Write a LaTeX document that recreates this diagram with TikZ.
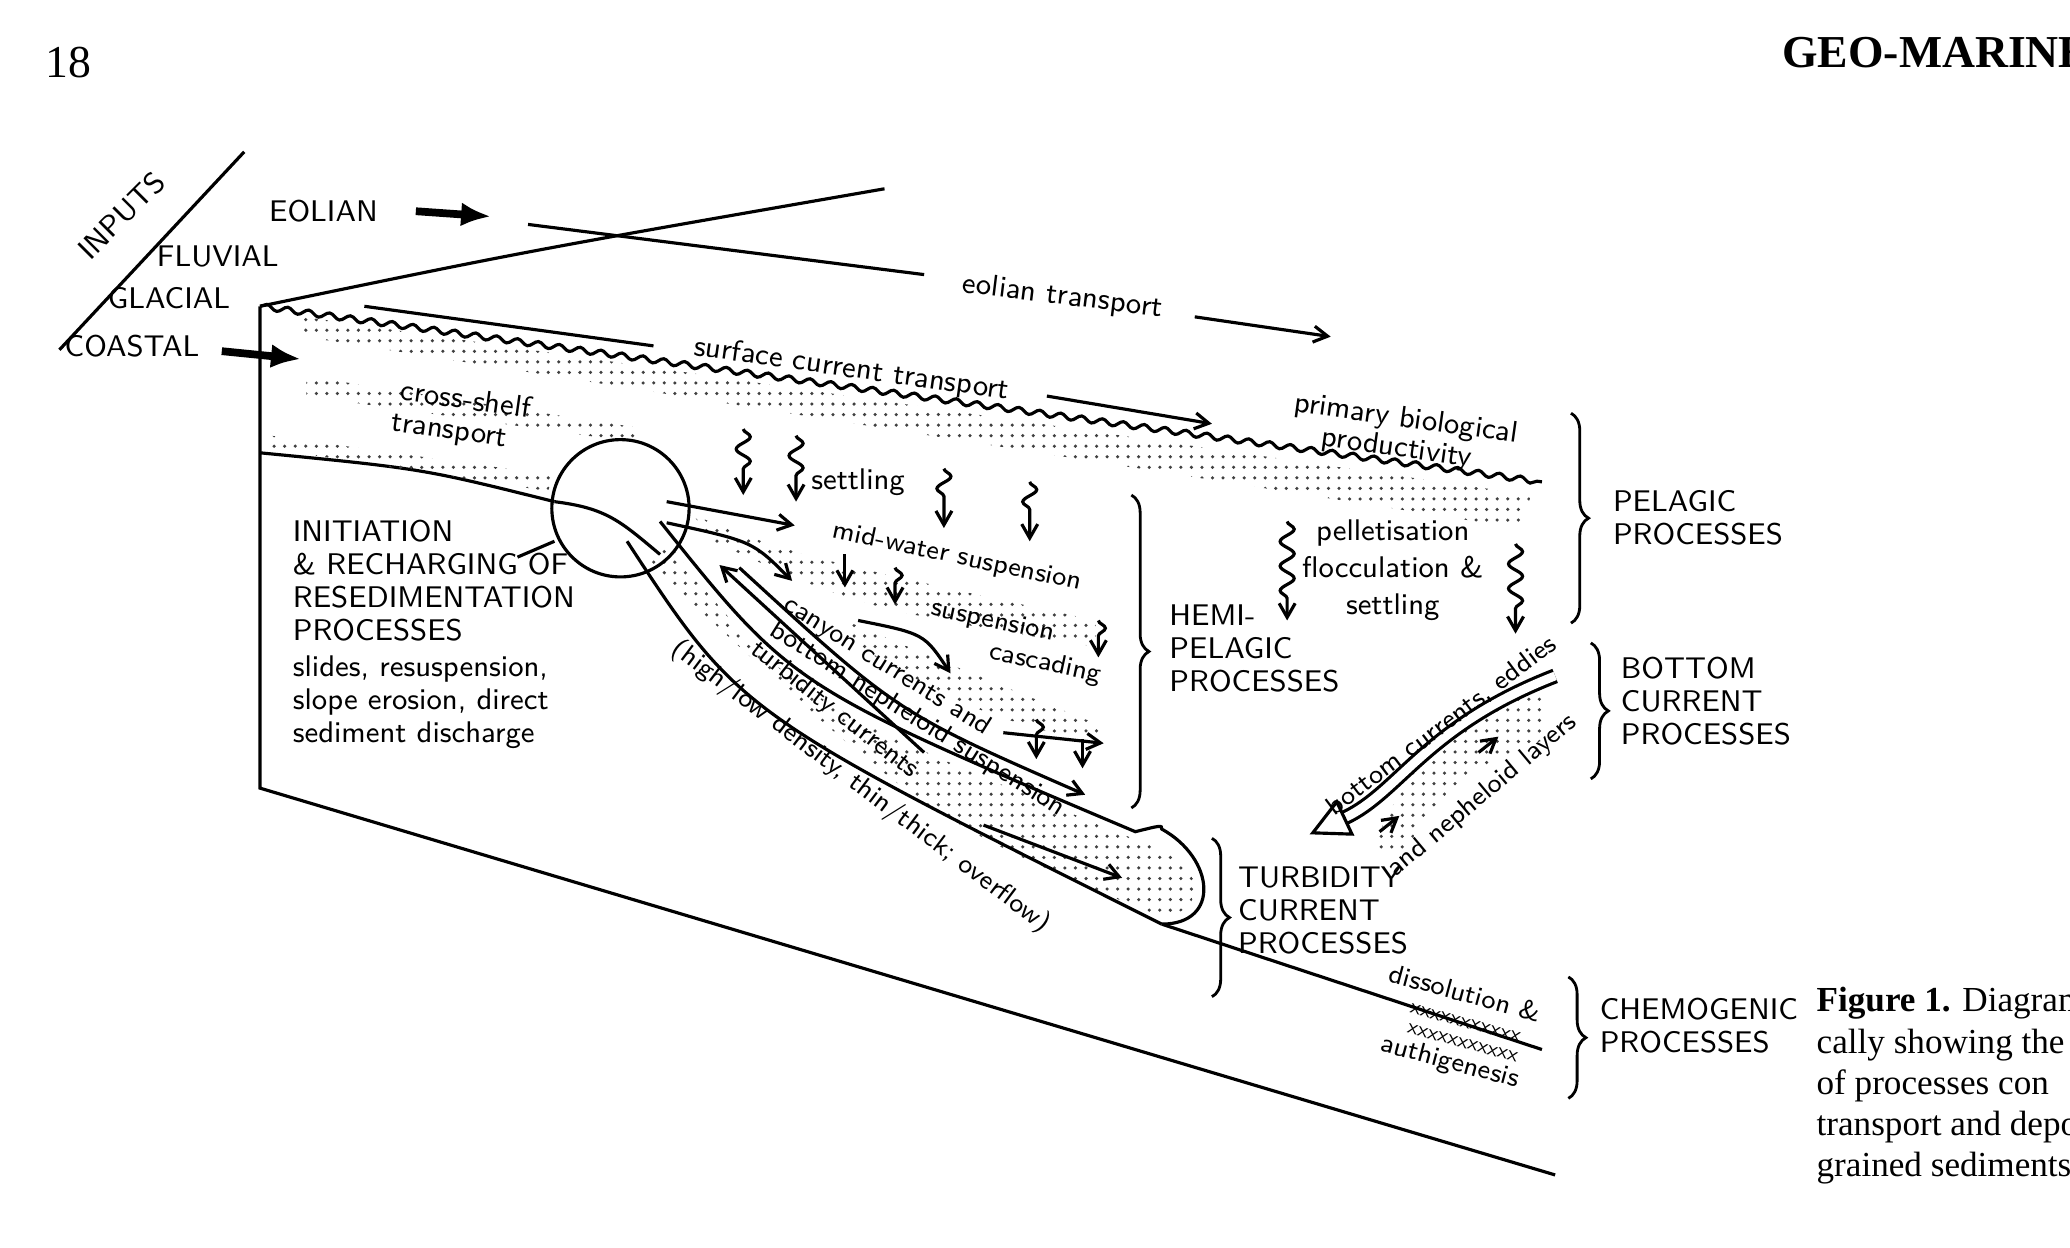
\documentclass[tikz,border=0pt]{standalone}
\usepackage{fontspec}
\newfontfamily\timesfont{Liberation Serif}
\usepackage{tikz}
\usetikzlibrary{calc,positioning,patterns,decorations.pathmorphing,decorations.pathreplacing,arrows.meta}
\tikzset{>={Straight Barb[width=1.6mm,length=1.4mm]}}
\begin{document}
\begin{tikzpicture}[x=0.13202mm,y=-0.13202mm,line width=0.9pt]
      %%%%%%%%%%%%%%%%%%%%%%%%%%%%%%%%%%%%%%%%%%%%%%%%%%
      %% styles
      %%%%%%%%%%%%%%%%%%%%%%%%%%%%%%%%%%%%%%%%%%%%%%%%%%
      \tikzstyle{lbl} = [font=\sffamily\fontsize{8.5}{10.5}\selectfont, inner sep=1pt]
      \tikzstyle{slbl} = [font=\sffamily\fontsize{7.6}{9}\selectfont, inner sep=1pt]
      \tikzstyle{proc} = [font=\sffamily\fontsize{8.5}{9.4}\selectfont, align=left, inner sep=1pt, anchor=west]
      \tikzstyle{brc} = [decorate, decoration={brace, amplitude=5pt}, line width=0.8pt]
      \tikzstyle{sink} = [->, decorate, decoration={snake, amplitude=2pt, segment length=7pt, post length=2mm}]
      \tikzstyle{fat} = [-{Latex[length=3mm,width=2.4mm]}, line width=2.2pt]
      \tikzstyle{stip} = [pattern=dots, pattern color=black!75, draw=none]
      \useasboundingbox (0,0) rectangle (1568,945);
      % page header and caption
      \node[font=\timesfont\fontsize{13}{15}\selectfont] (page) at (52,47) {18};
      \node[font=\timesfont\bfseries\fontsize{13}{15}\selectfont, anchor=west] (jour) at (1340,40) {GEO-MARINE L};
      \node[font=\timesfont\fontsize{10}{11.7}\selectfont, anchor=north west, align=left] (cap) at (1366,738)
        {\textbf{Figure 1.} Diagram\\cally showing the\\of processes con\\transport and depos\\grained sediments i};
      % block
      \draw (197,232) .. controls (400,190) .. (670,143);
      \draw (197,232) -- (197,597) -- (1178,890);
      \draw[decorate, decoration={snake, amplitude=0.8pt, segment length=6pt}] (197,232) -- (1168,365);
      \draw (197,343) .. controls (320,355) .. (420,380);
      \draw (1168,795) -- (880,700);
      % sediment bands
      \fill[stip] (230,240) -- (1160,375) -- (1150,400) -- (800,345) -- (230,255) -- cycle;
      \fill[stip] (232,285) -- (490,325) -- (480,335) -- (232,300) -- cycle;
      \fill[stip] (205,330) -- (420,360) -- (415,372) -- (205,340) -- cycle;
      \fill[stip] (525,390) .. controls (600,420) .. (830,470) -- (830,490) .. controls (650,460) .. (540,410) -- cycle;
      \fill[stip] (640,470) .. controls (760,520) .. (835,550) -- (835,565) .. controls (740,540) .. (650,490) -- cycle;
      \fill[stip] (505,410) .. controls (600,530) .. (870,640) .. controls (915,655) and (915,690) .. (880,695) .. controls (700,620) .. (490,425) -- cycle;
      % inputs
      \draw (45,265) -- (185,115);
      \node[lbl, rotate=45] (inp) at (92,163) {INPUTS};
      \node[lbl] (eol) at (245,160) {EOLIAN};
      \node[lbl] (flu) at (165,194) {FLUVIAL};
      \node[lbl] (gla) at (128,226) {GLACIAL};
      \node[lbl] (coa) at (100,262) {COASTAL};
      \draw[fat] (315,160) -- (372,164);
      \draw[fat] (168,266) -- (228,272);
      % transports
      \draw (400,170) -- (700,208);
      \node[lbl, rotate=-7] (eoltr) at (805,225) {eolian transport};
      \draw[->] (905,240) -- (1008,255);
      \draw (276,232) -- (495,262);
      \node[lbl, rotate=-8] (surf) at (645,280) {surface current transport};
      \draw[->] (793,300) -- (918,321);
      \node[lbl, rotate=-8] (cross) at (353,302) {cross-shelf};
      \node[lbl, rotate=-8] (trans) at (340,328) {transport};
      \node[lbl, rotate=-8] (prim) at (1065,318) {primary biological};
      \node[lbl, rotate=-8] (prod) at (1058,340) {productivity};
      % settling
      \foreach \x/\a/\b in {563/325/375, 603/330/380, 715/355/400, 780/365/410, 975/395/470, 1148/412/480}
        \draw[sink] (\x,\a) -- (\x,\b);
      \foreach \x/\a/\b in {640/420/445, 678/430/458, 832/470/498, 785/545/575, 820/560/582}
        \draw[sink] (\x,\a) -- (\x,\b);
      \node[lbl] (sett) at (650,365) {settling};
      \node[lbl, align=center] (pell) at (1055,432) {pelletisation\\flocculation \&\\settling};
      % resedimentation
      \draw (470,385) circle (52);
      \draw (420,380) .. controls (460,385) and (470,395) .. (500,420);
      \node[proc] (init) at (218,440) {INITIATION\\\& RECHARGING OF\\RESEDIMENTATION\\PROCESSES};
      \draw (392,422) -- (420,410);
      \node[proc, font=\sffamily\fontsize{8.5}{9.4}\selectfont] (slid) at (218,532) {slides, resuspension,\\slope erosion, direct\\sediment discharge};
      % canyon
      \draw (500,395) .. controls (600,520) .. (860,630) .. controls (880,625) .. (880,628) .. controls (920,650) and (925,700) .. (880,700);
      \draw (475,410) .. controls (560,540) .. (880,700);
      \draw[->] (505,380) -- (602,398);
      \draw[->] (505,396) .. controls (570,410) .. (600,440);
      \draw[->] (700,570) -- (545,428);
      \draw[->] (560,430) .. controls (680,540) .. (822,602);
      \draw[->] (650,470) .. controls (700,480) .. (720,510);
      \draw[->] (760,555) -- (836,563);
      \draw[->] (745,625) -- (850,665);
      \node[slbl, rotate=-12] (midw) at (725,422) {mid-water suspension};
      \node[slbl, rotate=-12] (susp) at (752,471) {suspension};
      \node[slbl, rotate=-12] (casc) at (792,503) {cascading};
      \node[slbl, rotate=-32] (cany) at (672,505) {canyon currents and};
      \node[slbl, rotate=-32] (bott) at (695,545) {bottom nepheloid suspension};
      \node[slbl, rotate=-38] (turb) at (632,538) {turbidity currents};
      \node[slbl, rotate=-37] (high) at (652,596) {(high/low density, thin/thick; overflow)};
      % bottom currents
      \fill[stip] (1170,520) .. controls (1080,560) .. (1040,640) -- (1060,650) .. controls (1100,590) .. (1170,560) -- cycle;
      \draw[double, double distance=2.5pt, -{Triangle[open, length=4mm, width=4mm]}] (1178,512) .. controls (1080,550) and (1060,600) .. (992,632);
      \node[slbl, rotate=37] (bcur) at (1092,550) {bottom currents, eddies};
      \node[slbl, rotate=40] (neph) at (1123,603) {and nepheloid layers};
      \draw[->] (1045,630) -- (1060,618);
      \draw[->] (1120,570) -- (1135,558);
      % chemogenic
      \node[slbl, rotate=-15] (diss) at (1110,752) {dissolution \&};
      \node[slbl, rotate=-15, font=\sffamily\fontsize{6}{6}\selectfont] (xx1) at (1110,775) {xxxxxxxxxxx};
      \node[slbl, rotate=-15, font=\sffamily\fontsize{6}{6}\selectfont] (xx2) at (1108,790) {xxxxxxxxxxx};
      \node[slbl, rotate=-15] (auth) at (1098,805) {authigenesis};
      % process braces
      \draw[brc] (1190,313) -- (1190,472);
      \node[proc] (pel) at (1218,392) {PELAGIC\\PROCESSES};
      \draw[brc] (1205,487) -- (1205,590);
      \node[proc] (bcp) at (1224,531) {BOTTOM\\CURRENT\\PROCESSES};
      \draw[brc] (857,375) -- (857,612);
      \node[proc] (hem) at (882,491) {HEMI-\\PELAGIC\\PROCESSES};
      \draw[brc] (918,635) -- (918,755);
      \node[proc] (tcp) at (934,690) {TURBIDITY\\CURRENT\\PROCESSES};
      \draw[brc] (1188,740) -- (1188,832);
      \node[proc] (che) at (1208,777) {CHEMOGENIC\\PROCESSES};
\end{tikzpicture}
\end{document}
